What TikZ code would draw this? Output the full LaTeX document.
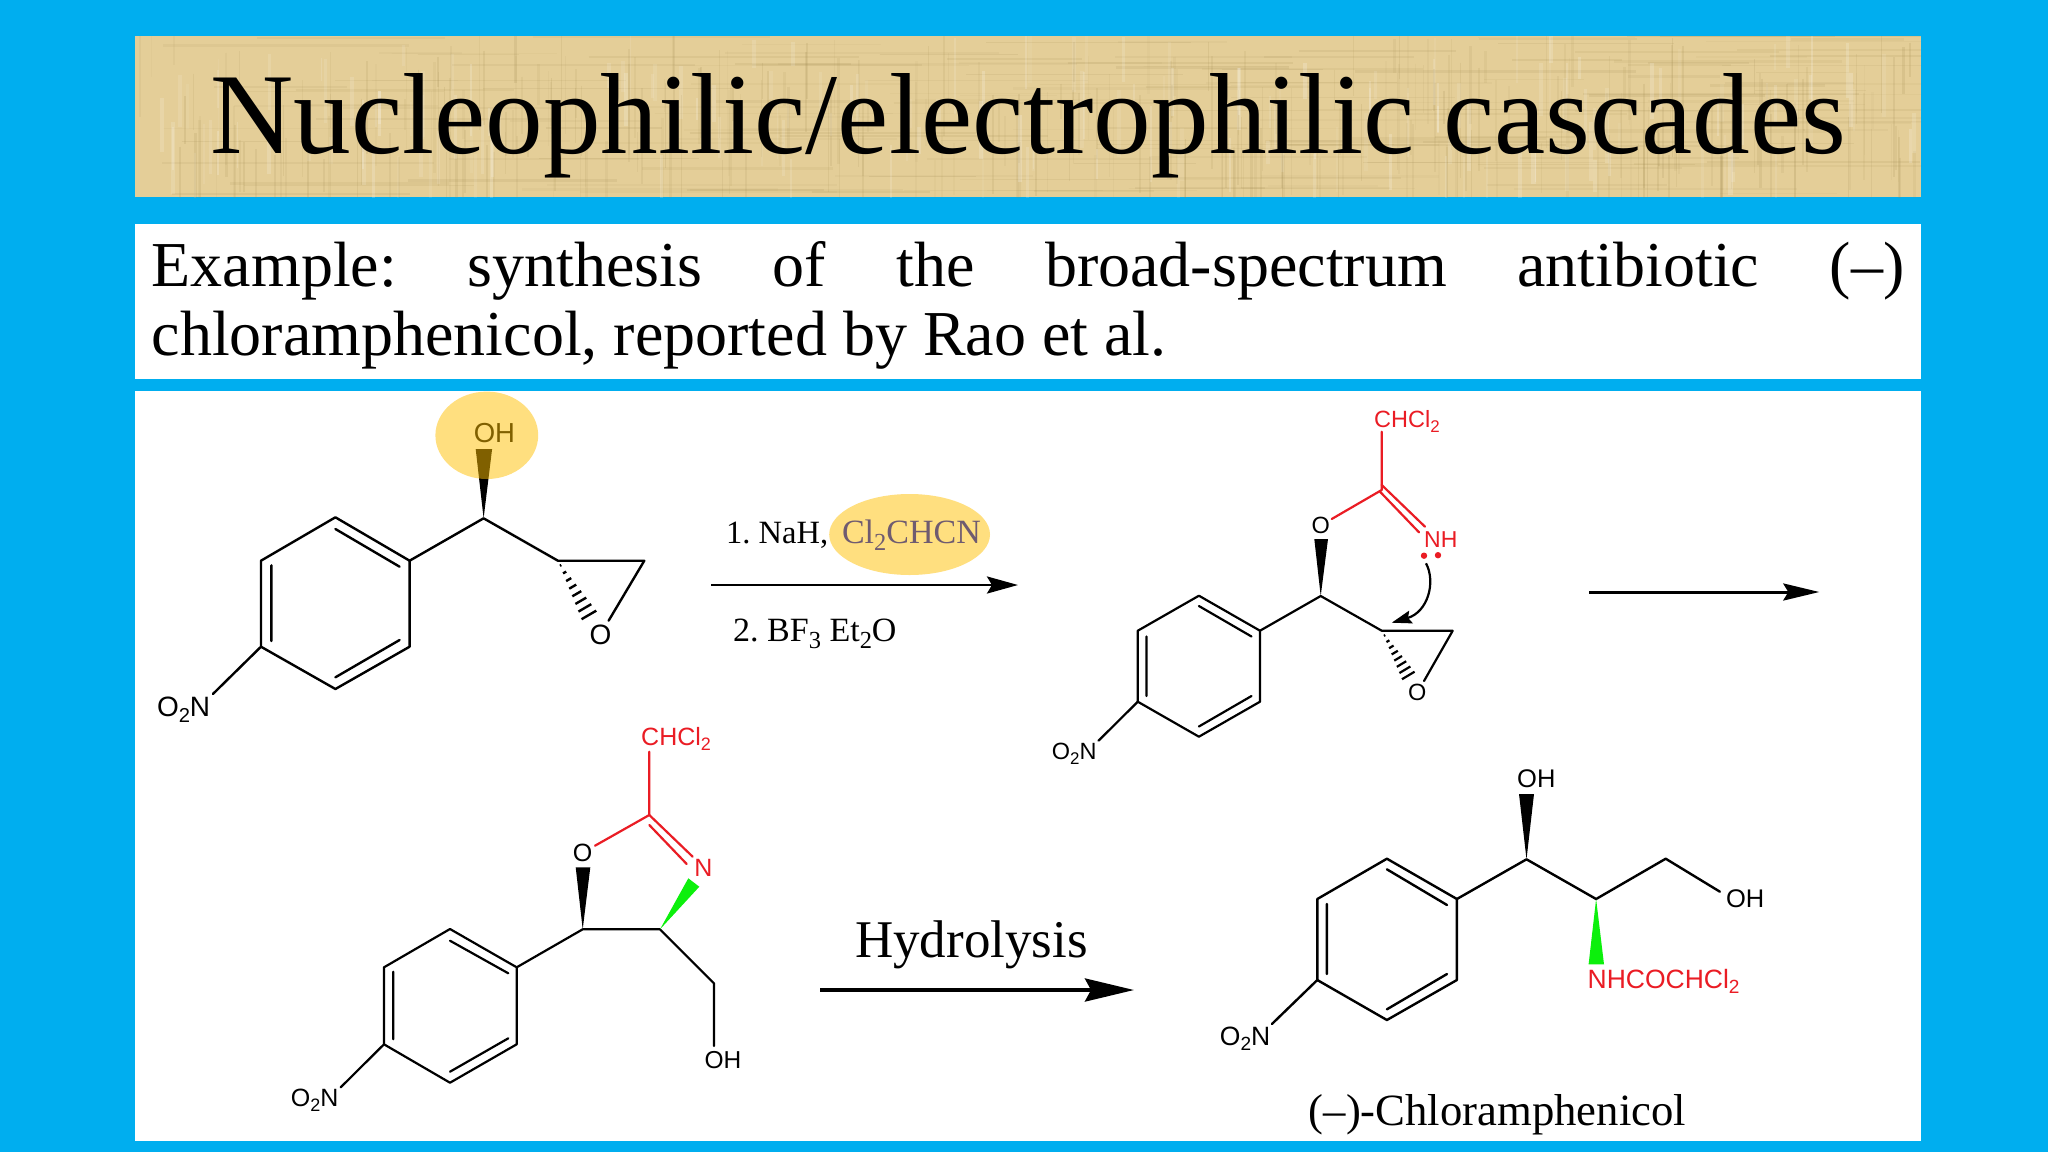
\documentclass[tikz,border=0pt]{standalone}
\usepackage{fontspec}
\usepackage{graphicx}
\setmainfont{Liberation Serif}
\newfontfamily\chemf{Liberation Sans}
\usetikzlibrary{arrows.meta,calc}
\definecolor{slidebg}{HTML}{00AEEF}
\definecolor{papyrus}{HTML}{E4CE98}
\definecolor{chemred}{HTML}{EA1C24}
\definecolor{chemgreen}{HTML}{0CF00C}
\definecolor{halo}{HTML}{FFC000}
\definecolor{reagent}{HTML}{6F5B70}
\definecolor{fibredark}{HTML}{A08A50}
\newcommand{\sbt}[1]{\raisebox{-0.2em}{\scalebox{0.72}{#1}}}
\tikzset{
  lab/.style={inner sep=0pt,anchor=base west,font=\chemf\fontsize{#1}{#1}\selectfont},
  labc/.style={inner sep=0pt,anchor=base,font=\chemf\fontsize{#1}{#1}\selectfont},
  serif/.style={inner sep=0pt,anchor=base west,font=\frenchspacing\fontsize{#1}{#1}\selectfont},
  bond/.style={draw=black,line width=2.4pt,line join=round,line cap=round},
  redbond/.style={bond,draw=chemred},
  wedgeb/.style={fill=black,draw=none},
  wedgeg/.style={fill=chemgreen,draw=none},
  hashb/.style={draw=black,line width=2.4pt},
  panel/.style={fill=white,draw=none},
  fibre/.style={line width=#1},
  halos/.style={fill=halo,fill opacity=0.5,draw=none}
}
\begin{document}
\begin{tikzpicture}[x=1pt,y=-1pt]
\useasboundingbox (0,0) rectangle (2048,1152);
\fill[slidebg] (0,0) rectangle (2048,1152);
% header with papyrus texture
\fill[papyrus] (135,36) rectangle (1921,197);
\begin{scope}
\clip (135,36) rectangle (1921,197);
\pgfmathsetseed{4217}
\foreach \i in {1,...,300}{
  \pgfmathsetmacro{\xx}{135+rnd*1786}
  \pgfmathsetmacro{\ya}{30+rnd*130}
  \pgfmathsetmacro{\yb}{\ya+30+rnd*90}
  \pgfmathsetmacro{\op}{0.05+rnd*0.12}
  \pgfmathsetmacro{\ww}{0.8+rnd*2}
  \draw[fibre=\ww pt,draw=fibredark,opacity=\op] (\xx,\ya) -- (\xx,\yb);
}
\foreach \i in {1,...,170}{
  \pgfmathsetmacro{\yy}{36+rnd*161}
  \pgfmathsetmacro{\xa}{125+rnd*1700}
  \pgfmathsetmacro{\xb}{\xa+80+rnd*220}
  \pgfmathsetmacro{\op}{0.05+rnd*0.1}
  \pgfmathsetmacro{\ww}{0.8+rnd*1.8}
  \draw[fibre=\ww pt,draw=fibredark,opacity=\op] (\xa,\yy) -- (\xb,\yy);
}
\foreach \i in {1,...,170}{
  \pgfmathsetmacro{\xx}{135+rnd*1786}
  \pgfmathsetmacro{\ya}{30+rnd*130}
  \pgfmathsetmacro{\yb}{\ya+20+rnd*60}
  \pgfmathsetmacro{\op}{0.06+rnd*0.14}
  \pgfmathsetmacro{\ww}{1.5+rnd*3}
  \draw[fibre=\ww pt,draw=white,opacity=\op] (\xx,\ya) -- (\xx,\yb);
}
\end{scope}
\node[serif=115.3] (title) at (210,153) {Nucleophilic/electrophilic cascades};
% text panel
\fill[panel] (135,224) rectangle (1921,379);
\node[serif=64] (exa) at (151.5,286.7) {\makebox[1752.5pt][s]{Example: synthesis of the broad-spectrum antibiotic (–)}};
\node[serif=64] (exb) at (151.5,355) {chloramphenicol, reported by Rao et al.};
% chemistry panel
\fill[panel] (135,391) rectangle (1921,1141);

% ---------- molecule 1
\foreach \n/\x/\y in {a1/335.4/517.3,a2/409.6/560.7,a3/409.6/646.7,a4/335.4/689,a5/261/646.7,a6/261/560.7,
  ac/483.6/518.3,ae/557.9/560.7,am/644.3/560.7,ao/608.6/620.7,an/212.9/694,
  ai1/335.4/529,ai2/399.6/566.7,ai3/271.4/565.3,ai4/271.4/641,ai5/335.4/677.3,ai6/399.6/640,
  awl/475.7/449,awr/492.1/449,ahl/583.6/624.3,ahr/599.6/615}
  {\coordinate (\n) at (\x,\y);}
\draw[bond] (a1)--(a2)--(a3)--(a4)--(a5)--(a6)--cycle;
\draw[bond] (ai1)--(ai2) (ai3)--(ai4) (ai5)--(ai6);
\draw[bond] (a2)--(ac)--(ae)--(am)--(ao);
\draw[bond] (a5)--(an);
\fill[wedgeb] (ac)--(awl)--(awr)--cycle;
\foreach \t in {0.08,0.2,...,1.0}{\draw[hashb] ($(ae)!\t!(ahl)$)--($(ae)!\t!(ahr)$);}
\node[lab=27.5] (aoh) at (473.6,442.3) {OH};
\node[labc=28] (aox) at (600.4,644.6) {O};
\node[lab=28] (ano) at (156.8,716.5) {O\sbt{2}N};
\fill[halos] (486.8,435.3) ellipse [x radius=51.4,y radius=43.7];

% ---------- reagents arrow 1
\fill[halos] (909.6,534.5) ellipse [x radius=80.4,y radius=40.5];
\coordinate (r1s) at (711.4,585);
\coordinate (r1e) at (1018,585);
\draw[line width=2.8pt,-{Stealth[length=31pt,width=17pt,inset=5pt]}] (r1s)--(r1e);
\node[serif=32.5] (r1) at (726,543.3) {1. NaH,};
\node[serif=34,text=reagent] (r2) at (841.8,543.3) {Cl\sbt{2}CHCN};
\node[serif=34] (r3) at (733,641.7) {2. BF\sbt{3} Et\sbt{2}O};

% ---------- molecule 2
\foreach \n/\x/\y in {b1/1198.9/595.7,b2/1260/630.7,b3/1260/701.7,b4/1198.9/736.7,b5/1137.8/701.7,b6/1137.8/630.7,
  bi1/1198.9/606,bi2/1251.5/636.5,bi3/1146.5/636.5,bi4/1146.5/696,bi5/1198.9/726.5,bi6/1251.5/696,
  bc/1320.7/596,be/1381.7/630.7,bm/1452.7/630.7,bo/1424/681,bn/1098.5/740.7,
  bwl/1314.3/539,bwr/1328/539,bhl/1403.3/682.3,bhr/1416.7/674.3,
  br/1381.7/490,brc/1381.7/431.7,bro/1331.7/519,bd1/1381.7/485,bd2/1425/526.7,bd3/1380/491.7,bd4/1419/532.3,
  bcs/1426/563.3,bct/1391.7/622.7}
  {\coordinate (\n) at (\x,\y);}
\begin{scope}[bond/.append style={line width=2.2pt},hashb/.append style={line width=2.2pt}]
\draw[bond] (b1)--(b2)--(b3)--(b4)--(b5)--(b6)--cycle;
\draw[bond] (bi1)--(bi2) (bi3)--(bi4) (bi5)--(bi6);
\draw[bond] (b2)--(bc)--(be)--(bm)--(bo);
\draw[bond] (b5)--(bn);
\fill[wedgeb] (bc)--(bwl)--(bwr)--cycle;
\foreach \t in {0.1,0.22,...,1.0}{\draw[hashb] ($(be)!\t!(bhl)$)--($(be)!\t!(bhr)$);}
\draw[redbond] (brc)--(br)--(bro);
\draw[redbond] (bd1)--(bd2) (bd3)--(bd4);
\draw[line width=2.2pt,-{Stealth[length=20pt,width=13pt,inset=3pt]}] (bcs) .. controls (1436,582) and (1428,612) .. (bct);
\end{scope}
\fill[chemred] (1424,555.7) circle (3.2pt) (1438,555.2) circle (3.2pt);
\node[lab=23.5,text=chemred] (bch) at (1374,427.3) {CHCl\sbt{2}};
\node[labc=23.5] (box) at (1320.7,533.2) {O};
\node[lab=23,text=chemred] (bnh) at (1424,547.7) {NH};
\node[labc=23.5] (bep) at (1417.3,700) {O};
\node[lab=23.5] (bno) at (1051.6,759.3) {O\sbt{2}N};

% arrow 2
\coordinate (r2s) at (1589,592);
\coordinate (r2e) at (1819.3,592);
\draw[line width=3pt,-{Stealth[length=36pt,width=17pt,inset=5pt]}] (r2s)--(r2e);

% ---------- molecule 3
\foreach \n/\x/\y in {c1/450/929,c2/516.7/967.3,c3/516.7/1044.3,c4/450/1082.7,c5/384/1044.3,c6/384/967.3,
  ci1/450/940.7,ci2/508.3/973.3,ci3/393.3/971.7,ci4/393.3/1039.3,ci5/450/1071.7,ci6/508.3/1038.3,
  cp/582.7/929.3,cq/660/929.3,cm/714/983.3,ce/714/1046,cn/340.7/1087.3,
  cwl/575.7/867.3,cwr/590.3/867.3,cgl/688.3/878.3,cgr/699.3/886.7,
  cr/649.3/815,crc/649.3/751.7,cro/595/845.7,cd1/692.7/856.7,cd2/649.3/825,cd3/686.7/864}
  {\coordinate (\n) at (\x,\y);}
\begin{scope}[bond/.append style={line width=2.2pt}]
\draw[bond] (c1)--(c2)--(c3)--(c4)--(c5)--(c6)--cycle;
\draw[bond] (ci1)--(ci2) (ci3)--(ci4) (ci5)--(ci6);
\draw[bond] (c2)--(cp)--(cq)--(cm)--(ce);
\draw[bond] (c5)--(cn);
\fill[wedgeb] (cp)--(cwl)--(cwr)--cycle;
\fill[wedgeg] (cq)--(cgl)--(cgr)--cycle;
\draw[redbond] (crc)--(cr)--(cro);
\draw[redbond] (cr)--(cd1) (cd2)--(cd3);
\end{scope}
\node[lab=25,text=chemred] (cch) at (641,745.7) {CHCl\sbt{2}};
\node[labc=25] (cox) at (582.7,861.5) {O};
\node[labc=25,text=chemred] (cnx) at (703.3,876.7) {N};
\node[lab=24.5] (coh) at (704.3,1068.3) {OH};
\node[lab=25] (cno) at (290.7,1106.7) {O\sbt{2}N};

% arrow 3
\coordinate (r3s) at (820,990);
\coordinate (r3e) at (1134,990);
\draw[line width=4pt,-{Stealth[length=49pt,width=23pt,inset=6pt]}] (r3s)--(r3e);
\node[serif=53] (hyd) at (855,957.3) {Hydrolysis};

% ---------- molecule 4
\foreach \n/\x/\y in {d1/1386.9/858.7,d2/1456.9/899,d3/1456.9/980,d4/1386.9/1020,d5/1317.3/980,d6/1317.3/899,
  di1/1386.9/869.3,di2/1447/905,di3/1326.8/904,di4/1326.8/974,di5/1386.9/1009.3,di6/1447/974,
  dp/1526.5/859.3,dq/1596.1/899,dr/1665.7/858.7,ds/1719.9/891.7,dn/1271.9/1024,
  dwl/1519/794,dwr/1534/794,dgl/1588.6/964.3,dgr/1604/964.3}
  {\coordinate (\n) at (\x,\y);}
\draw[bond] (d1)--(d2)--(d3)--(d4)--(d5)--(d6)--cycle;
\draw[bond] (di1)--(di2) (di3)--(di4) (di5)--(di6);
\draw[bond] (d2)--(dp)--(dq)--(dr)--(ds);
\draw[bond] (d5)--(dn);
\fill[wedgeb] (dp)--(dwl)--(dwr)--cycle;
\fill[wedgeg] (dq)--(dgl)--(dgr)--cycle;
\node[lab=25.5] (doh) at (1517,787.3) {OH};
\node[lab=25.5] (dohb) at (1725.8,907.3) {OH};
\node[lab=26.5,text=chemred] (dnh) at (1587.4,988.3) {NHCOCHCl\sbt{2}};
\node[lab=26.5] (dno) at (1219.7,1045) {O\sbt{2}N};
\node[serif=44.7] (dname) at (1308.6,1125) {(–)-Chloramphenicol};
\end{tikzpicture}
\end{document}
